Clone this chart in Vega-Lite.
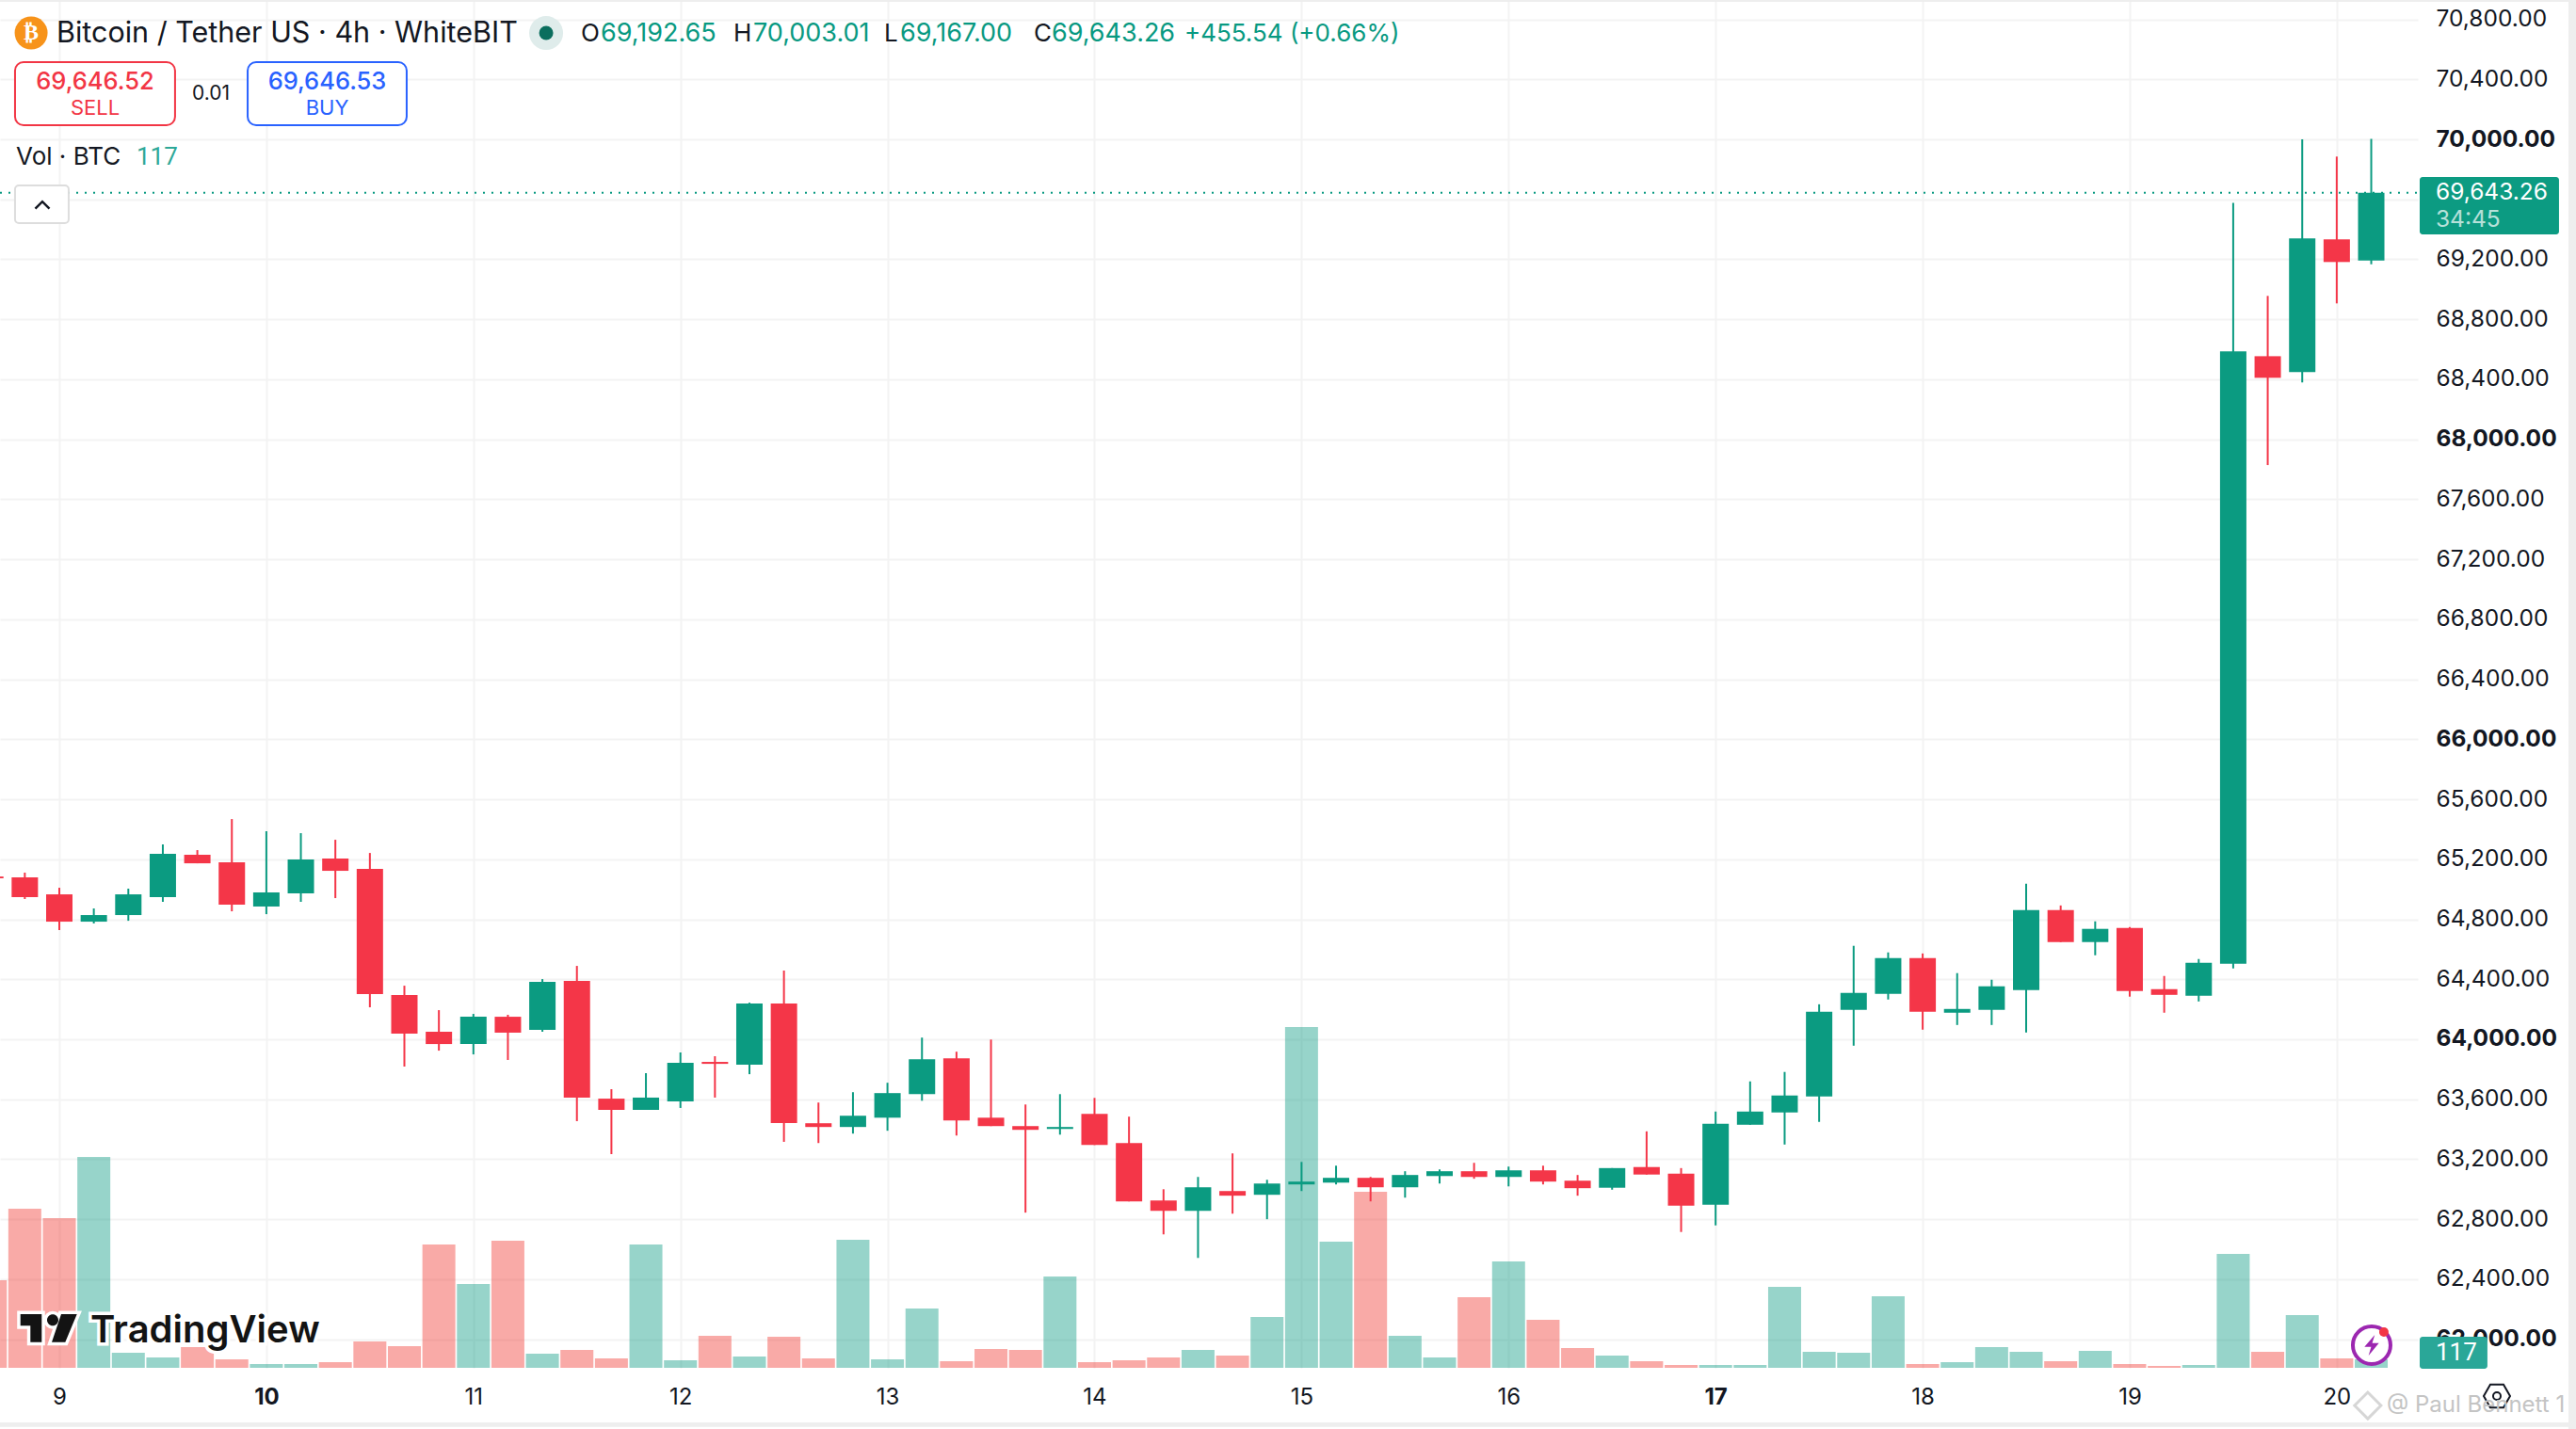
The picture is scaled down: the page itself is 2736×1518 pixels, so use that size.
{"$schema":"https://vega.github.io/schema/vega-lite/v6.json","width":2568,"height":1453,"autosize":"none","padding":{"left":0,"top":0,"right":168,"bottom":65},"background":"#ffffff","config":{"view":{"stroke":null},"font":"Inter"},
"datasets":{"candles":[
{"time":"2024-05-08T16:00:00Z","open":65085,"high":65090,"low":65060,"close":65073,"volume":1209},
{"time":"2024-05-08T20:00:00Z","open":65079,"high":65111,"low":64935,"close":64947,"volume":2197},
{"time":"2024-05-09T00:00:00Z","open":64966,"high":65010,"low":64728,"close":64784,"volume":2067},
{"time":"2024-05-09T04:00:00Z","open":64784,"high":64872,"low":64772,"close":64828,"volume":2912},
{"time":"2024-05-09T08:00:00Z","open":64828,"high":65004,"low":64790,"close":64966,"volume":208},
{"time":"2024-05-09T12:00:00Z","open":64947,"high":65299,"low":64916,"close":65236,"volume":143},
{"time":"2024-05-09T16:00:00Z","open":65230,"high":65261,"low":65173,"close":65173,"volume":286},
{"time":"2024-05-09T20:00:00Z","open":65180,"high":65468,"low":64853,"close":64897,"volume":117},
{"time":"2024-05-10T00:00:00Z","open":64885,"high":65387,"low":64834,"close":64979,"volume":52},
{"time":"2024-05-10T04:00:00Z","open":64972,"high":65374,"low":64916,"close":65198,"volume":52},
{"time":"2024-05-10T08:00:00Z","open":65205,"high":65330,"low":64941,"close":65123,"volume":78},
{"time":"2024-05-10T12:00:00Z","open":65136,"high":65242,"low":64213,"close":64301,"volume":364},
{"time":"2024-05-10T16:00:00Z","open":64295,"high":64357,"low":63818,"close":64037,"volume":299},
{"time":"2024-05-10T20:00:00Z","open":64050,"high":64194,"low":63924,"close":63968,"volume":1703},
{"time":"2024-05-11T00:00:00Z","open":63968,"high":64169,"low":63899,"close":64150,"volume":1157},
{"time":"2024-05-11T04:00:00Z","open":64150,"high":64163,"low":63862,"close":64044,"volume":1755},
{"time":"2024-05-11T08:00:00Z","open":64062,"high":64401,"low":64050,"close":64382,"volume":195},
{"time":"2024-05-11T12:00:00Z","open":64389,"high":64489,"low":63454,"close":63611,"volume":247},
{"time":"2024-05-11T16:00:00Z","open":63604,"high":63667,"low":63234,"close":63529,"volume":130},
{"time":"2024-05-11T20:00:00Z","open":63529,"high":63774,"low":63529,"close":63611,"volume":1703},
{"time":"2024-05-12T00:00:00Z","open":63585,"high":63912,"low":63542,"close":63843,"volume":104},
{"time":"2024-05-12T04:00:00Z","open":63849,"high":63887,"low":63611,"close":63836,"volume":442},
{"time":"2024-05-12T08:00:00Z","open":63830,"high":64244,"low":63767,"close":64238,"volume":156},
{"time":"2024-05-12T12:00:00Z","open":64238,"high":64458,"low":63316,"close":63441,"volume":429},
{"time":"2024-05-12T16:00:00Z","open":63440,"high":63578,"low":63308,"close":63415,"volume":130},
{"time":"2024-05-12T20:00:00Z","open":63415,"high":63647,"low":63371,"close":63490,"volume":1768},
{"time":"2024-05-13T00:00:00Z","open":63477,"high":63710,"low":63390,"close":63641,"volume":117},
{"time":"2024-05-13T04:00:00Z","open":63634,"high":64011,"low":63590,"close":63867,"volume":819},
{"time":"2024-05-13T08:00:00Z","open":63873,"high":63917,"low":63358,"close":63459,"volume":91},
{"time":"2024-05-13T12:00:00Z","open":63477,"high":63998,"low":63421,"close":63421,"volume":260},
{"time":"2024-05-13T16:00:00Z","open":63421,"high":63565,"low":62844,"close":63396,"volume":247},
{"time":"2024-05-13T20:00:00Z","open":63402,"high":63634,"low":63364,"close":63415,"volume":1261},
{"time":"2024-05-14T00:00:00Z","open":63503,"high":63609,"low":63295,"close":63295,"volume":78},
{"time":"2024-05-14T04:00:00Z","open":63308,"high":63484,"low":62919,"close":62919,"volume":104},
{"time":"2024-05-14T08:00:00Z","open":62925,"high":63000,"low":62699,"close":62856,"volume":143},
{"time":"2024-05-14T12:00:00Z","open":62856,"high":63082,"low":62542,"close":63013,"volume":247},
{"time":"2024-05-14T16:00:00Z","open":62988,"high":63239,"low":62837,"close":62957,"volume":169},
{"time":"2024-05-14T20:00:00Z","open":62963,"high":63063,"low":62800,"close":63038,"volume":702},
{"time":"2024-05-15T00:00:00Z","open":63032,"high":63182,"low":62988,"close":63051,"volume":4706},
{"time":"2024-05-15T04:00:00Z","open":63044,"high":63157,"low":63032,"close":63076,"volume":1742},
{"time":"2024-05-15T08:00:00Z","open":63076,"high":63082,"low":62919,"close":63013,"volume":2431},
{"time":"2024-05-15T12:00:00Z","open":63013,"high":63120,"low":62944,"close":63095,"volume":442},
{"time":"2024-05-15T16:00:00Z","open":63088,"high":63132,"low":63038,"close":63120,"volume":143},
{"time":"2024-05-15T20:00:00Z","open":63120,"high":63176,"low":63070,"close":63082,"volume":975},
{"time":"2024-05-16T00:00:00Z","open":63082,"high":63151,"low":63019,"close":63126,"volume":1469},
{"time":"2024-05-16T04:00:00Z","open":63126,"high":63157,"low":63032,"close":63051,"volume":663},
{"time":"2024-05-16T08:00:00Z","open":63057,"high":63095,"low":62957,"close":63007,"volume":273},
{"time":"2024-05-16T12:00:00Z","open":63010,"high":63141,"low":62997,"close":63141,"volume":169},
{"time":"2024-05-16T16:00:00Z","open":63148,"high":63386,"low":63098,"close":63098,"volume":91},
{"time":"2024-05-16T20:00:00Z","open":63104,"high":63141,"low":62715,"close":62890,"volume":39},
{"time":"2024-05-17T00:00:00Z","open":62897,"high":63518,"low":62759,"close":63436,"volume":39},
{"time":"2024-05-17T04:00:00Z","open":63430,"high":63719,"low":63430,"close":63518,"volume":39},
{"time":"2024-05-17T08:00:00Z","open":63512,"high":63782,"low":63298,"close":63625,"volume":1118},
{"time":"2024-05-17T12:00:00Z","open":63618,"high":64233,"low":63449,"close":64183,"volume":221},
{"time":"2024-05-17T16:00:00Z","open":64196,"high":64623,"low":63957,"close":64309,"volume":208},
{"time":"2024-05-17T20:00:00Z","open":64303,"high":64579,"low":64265,"close":64541,"volume":988},
{"time":"2024-05-18T00:00:00Z","open":64541,"high":64572,"low":64064,"close":64183,"volume":52},
{"time":"2024-05-18T04:00:00Z","open":64177,"high":64441,"low":64095,"close":64202,"volume":78},
{"time":"2024-05-18T08:00:00Z","open":64196,"high":64397,"low":64095,"close":64353,"volume":286},
{"time":"2024-05-18T12:00:00Z","open":64328,"high":65037,"low":64045,"close":64861,"volume":221},
{"time":"2024-05-18T16:00:00Z","open":64861,"high":64892,"low":64648,"close":64648,"volume":91},
{"time":"2024-05-18T20:00:00Z","open":64648,"high":64786,"low":64560,"close":64736,"volume":234},
{"time":"2024-05-19T00:00:00Z","open":64742,"high":64748,"low":64284,"close":64321,"volume":52},
{"time":"2024-05-19T04:00:00Z","open":64334,"high":64422,"low":64177,"close":64296,"volume":26},
{"time":"2024-05-19T08:00:00Z","open":64290,"high":64535,"low":64252,"close":64510,"volume":39},
{"time":"2024-05-19T12:00:00Z","open":64503,"high":69577,"low":64472,"close":68586,"volume":1573},
{"time":"2024-05-19T16:00:00Z","open":68554,"high":68956,"low":67828,"close":68410,"volume":221},
{"time":"2024-05-19T20:00:00Z","open":68448,"high":70000,"low":68379,"close":69339,"volume":728},
{"time":"2024-05-20T00:00:00Z","open":69333,"high":69885,"low":68906,"close":69182,"volume":130},
{"time":"2024-05-20T04:00:00Z","open":69192.65,"high":70003.01,"low":69167,"close":69643.26,"volume":117}
]},
"encoding":{"x":{"field":"time","type":"temporal","title":null,"scale":{"type":"utc","domain":["2024-05-08T17:07:27Z","2024-05-20T09:24:00Z"],"nice":false,"padding":0},"axis":{"title":null,"values":["2024-05-09T00:00:00Z","2024-05-10T00:00:00Z","2024-05-11T00:00:00Z","2024-05-12T00:00:00Z","2024-05-13T00:00:00Z","2024-05-14T00:00:00Z","2024-05-15T00:00:00Z","2024-05-16T00:00:00Z","2024-05-17T00:00:00Z","2024-05-18T00:00:00Z","2024-05-19T00:00:00Z","2024-05-20T00:00:00Z"],"labelExpr":"utcFormat(datum.value,'%-d')","domain":false,"ticks":false,"grid":true,"gridColor":"#f3f3f3","gridWidth":2,"labelFont":"Inter","labelFontSize":24,"labelColor":"#131722","labelPadding":19,"labelOverlap":false,"labelBound":false,"labelFlush":false,"labelFontWeight":{"condition":{"test":"utcdate(datum.value)===10||utcdate(datum.value)===17","value":"bold"},"value":"normal"}}}},
"resolve":{"scale":{"y":"independent"}},
"layer":[
{"data":{"values":[{"time":"2024-05-09T00:00:00Z","price":64000}]},"mark":{"type":"rule","opacity":0},"encoding":{"y":{"field":"price","type":"quantitative","scale":{"domain":[61809.4,70928.9],"nice":false,"zero":false},"axis":{"orient":"right","title":null,"values":[70800,70400,70000,69600,69200,68800,68400,68000,67600,67200,66800,66400,66000,65600,65200,64800,64400,64000,63600,63200,62800,62400,62000],"format":",.2f","labelExpr":"datum.value===69600?'':datum.label","domain":false,"ticks":false,"grid":true,"gridColor":"#f3f3f3","gridWidth":2,"labelFont":"Inter","labelFontSize":24.5,"labelColor":"#131722","labelPadding":19,"labelOverlap":false,"labelBound":false,"labelFlush":false,"labelFontWeight":{"condition":{"test":"datum.value%2000===0","value":"bold"},"value":"normal"}}}}},
{"data":{"name":"candles"},"mark":{"type":"bar","size":35,"opacity":0.42},"encoding":{"y":{"field":"volume","type":"quantitative","stack":null,"axis":null,"scale":{"domain":[0,18889],"nice":false,"zero":false}},"color":{"condition":{"test":"datum.close>=datum.open","value":"#089981"},"value":"#f1352d"}}},
{"layer":[
{"data":{"values":[{"time":"2024-05-08T17:07:27Z","time2":"2024-05-20T09:24:00Z","price":69643.26}]},"mark":{"type":"rule","color":"#089981","strokeWidth":2,"strokeDash":[2,7]},"encoding":{"x2":{"field":"time2"},"y":{"field":"price","type":"quantitative","axis":null,"scale":{"domain":[61809.4,70928.9],"nice":false,"zero":false}}}},
{"data":{"name":"candles"},"mark":{"type":"rule","strokeWidth":2},"encoding":{"y":{"field":"low","type":"quantitative","axis":null},"y2":{"field":"high"},"color":{"condition":{"test":"datum.close>=datum.open","value":"#0b9b81"},"value":"#f43648"}}},
{"data":{"name":"candles"},"mark":{"type":"bar","size":28},"encoding":{"y":{"field":"open","type":"quantitative","axis":null},"y2":{"field":"close"},"color":{"condition":{"test":"datum.close>=datum.open","value":"#0b9b81"},"value":"#f43648"}}},
{"data":{"values":[{"time":"2024-05-08T18:52:00Z","time2":"2024-05-09T13:25:00Z","price":70515,"price2":70094}]},"mark":{"type":"rect","fill":"#ffffff","stroke":"#f23645","strokeWidth":2,"cornerRadius":9},"encoding":{"x2":{"field":"time2"},"y":{"field":"price","type":"quantitative","axis":null},"y2":{"field":"price2"}}},
{"data":{"values":[{"time":"2024-05-09T21:50:00Z","time2":"2024-05-10T16:16:00Z","price":70515,"price2":70094}]},"mark":{"type":"rect","fill":"#ffffff","stroke":"#2962ff","strokeWidth":2,"cornerRadius":9},"encoding":{"x2":{"field":"time2"},"y":{"field":"price","type":"quantitative","axis":null},"y2":{"field":"price2"}}},
{"data":{"values":[{"time":"2024-05-08T18:52:00Z","time2":"2024-05-09T01:05:00Z","price":69692,"price2":69441}]},"mark":{"type":"rect","fill":"#ffffff","stroke":"#dddddd","strokeWidth":2,"cornerRadius":4},"encoding":{"x2":{"field":"time2"},"y":{"field":"price","type":"quantitative","axis":null},"y2":{"field":"price2"}}},
{"data":{"values":[{"time":"2024-05-20T09:37:00Z","time2":"2024-05-21T01:46:00Z","price":69749,"price2":69366}]},"mark":{"type":"rect","fill":"#0c9b82","cornerRadius":3},"encoding":{"x2":{"field":"time2"},"y":{"field":"price","type":"quantitative","axis":null},"y2":{"field":"price2"}}},
{"data":{"values":[{"time":"2024-05-20T09:37:00Z","time2":"2024-05-20T17:28:00Z","price":62017,"price2":61803}]},"mark":{"type":"rect","fill":"#2aa798","cornerRadius":3},"encoding":{"x2":{"field":"time2"},"y":{"field":"price","type":"quantitative","axis":null},"y2":{"field":"price2"}}},
{"data":{"values":[{"time":"2024-05-08T20:44:00Z","price":70709}]},"mark":{"type":"point","shape":"circle","size":1225,"filled":true,"color":"#f7931a","opacity":1},"encoding":{"y":{"field":"price","type":"quantitative","axis":null}}},
{"data":{"values":[{"time":"2024-05-11T08:26:00Z","price":70709}]},"mark":{"type":"point","shape":"circle","size":1296,"filled":true,"color":"#dfeceb","opacity":1},"encoding":{"y":{"field":"price","type":"quantitative","axis":null}}},
{"data":{"values":[{"time":"2024-05-11T08:26:00Z","price":70709}]},"mark":{"type":"point","shape":"circle","size":225,"filled":true,"color":"#0b6e5e","opacity":1},"encoding":{"y":{"field":"price","type":"quantitative","axis":null}}},
{"data":{"values":[{"time":"2024-05-08T20:44:00Z","price":70709,"label":"₿"}]},"mark":{"type":"text","font":"DejaVu Sans","fontWeight":"bold","fontSize":24,"color":"#ffffff","align":"center","baseline":"middle"},"encoding":{"y":{"field":"price","type":"quantitative","axis":null},"text":{"field":"label"}}},
{"data":{"values":[{"time":"2024-05-08T23:40:00Z","price":70700,"label":"Bitcoin / Tether US · 4h · WhiteBIT"}]},"mark":{"type":"text","font":"Inter","fontSize":30.5,"color":"#131722","align":"left","baseline":"middle"},"encoding":{"y":{"field":"price","type":"quantitative","axis":null},"text":{"field":"label"}}},
{"data":{"values":[{"time":"2024-05-11T12:28:00Z","price":70700,"label":"O"},{"time":"2024-05-12T06:09:00Z","price":70700,"label":"H"},{"time":"2024-05-12T23:37:00Z","price":70700,"label":"L"},{"time":"2024-05-13T16:58:00Z","price":70700,"label":"C"}]},"mark":{"type":"text","font":"Inter","fontSize":26,"color":"#131722","align":"left","baseline":"middle"},"encoding":{"y":{"field":"price","type":"quantitative","axis":null},"text":{"field":"label"}}},
{"data":{"values":[{"time":"2024-05-11T14:45:00Z","price":70700,"label":"69,192.65"},{"time":"2024-05-12T08:26:00Z","price":70700,"label":"70,003.01"},{"time":"2024-05-13T01:28:00Z","price":70700,"label":"69,167.00"},{"time":"2024-05-13T19:02:00Z","price":70700,"label":"69,643.26"}]},"mark":{"type":"text","font":"Inter","fontSize":27,"color":"#089981","align":"left","baseline":"middle"},"encoding":{"y":{"field":"price","type":"quantitative","axis":null},"text":{"field":"label"}}},
{"data":{"values":[{"time":"2024-05-14T10:25:00Z","price":70700,"label":"+455.54 (+0.66%)"}]},"mark":{"type":"text","font":"Inter","fontSize":26,"color":"#089981","align":"left","baseline":"middle"},"encoding":{"y":{"field":"price","type":"quantitative","axis":null},"text":{"field":"label"}}},
{"data":{"values":[{"time":"2024-05-09T04:09:00Z","price":70383,"label":"69,646.52"}]},"mark":{"type":"text","font":"Inter","fontSize":25.5,"fontWeight":500,"color":"#f23645","align":"center","baseline":"middle"},"encoding":{"y":{"field":"price","type":"quantitative","axis":null},"text":{"field":"label"}}},
{"data":{"values":[{"time":"2024-05-09T04:09:00Z","price":70207,"label":"SELL"}]},"mark":{"type":"text","font":"Inter","fontSize":22,"color":"#f23645","align":"center","baseline":"middle"},"encoding":{"y":{"field":"price","type":"quantitative","axis":null},"text":{"field":"label"}}},
{"data":{"values":[{"time":"2024-05-10T07:03:00Z","price":70383,"label":"69,646.53"}]},"mark":{"type":"text","font":"Inter","fontSize":25.5,"fontWeight":500,"color":"#2962ff","align":"center","baseline":"middle"},"encoding":{"y":{"field":"price","type":"quantitative","axis":null},"text":{"field":"label"}}},
{"data":{"values":[{"time":"2024-05-10T07:03:00Z","price":70207,"label":"BUY"}]},"mark":{"type":"text","font":"Inter","fontSize":22,"color":"#2962ff","align":"center","baseline":"middle"},"encoding":{"y":{"field":"price","type":"quantitative","axis":null},"text":{"field":"label"}}},
{"data":{"values":[{"time":"2024-05-09T17:34:00Z","price":70301,"label":"0.01"}]},"mark":{"type":"text","font":"Inter","fontSize":21,"color":"#131722","align":"center","baseline":"middle"},"encoding":{"y":{"field":"price","type":"quantitative","axis":null},"text":{"field":"label"}}},
{"data":{"values":[{"time":"2024-05-08T18:59:00Z","price":69881,"label":"Vol · BTC"}]},"mark":{"type":"text","font":"Inter","fontSize":26,"color":"#131722","align":"left","baseline":"middle"},"encoding":{"y":{"field":"price","type":"quantitative","axis":null},"text":{"field":"label"}}},
{"data":{"values":[{"time":"2024-05-09T08:57:00Z","price":69881,"label":"117"}]},"mark":{"type":"text","font":"Roboto","fontSize":26,"color":"#2ea898","align":"left","baseline":"middle"},"encoding":{"y":{"field":"price","type":"quantitative","axis":null},"text":{"field":"label"}}},
{"data":{"values":[{"time":"2024-05-08T22:02:00Z","price":69561}]},"mark":{"type":"point","shape":"M-1,0.5L0,-0.5L1,0.5","size":225,"filled":false,"stroke":"#131722","strokeWidth":2.5,"opacity":1},"encoding":{"y":{"field":"price","type":"quantitative","axis":null}}},
{"data":{"values":[{"time":"2024-05-20T11:28:00Z","price":69643,"label":"69,643.26"}]},"mark":{"type":"text","font":"Inter","fontSize":24.5,"color":"#ffffff","align":"left","baseline":"middle"},"encoding":{"y":{"field":"price","type":"quantitative","axis":null},"text":{"field":"label"}}},
{"data":{"values":[{"time":"2024-05-20T11:28:00Z","price":61910,"label":"117"}]},"mark":{"type":"text","font":"Roboto","fontSize":26,"color":"#ffffff","align":"left","baseline":"middle"},"encoding":{"y":{"field":"price","type":"quantitative","axis":null},"text":{"field":"label"}}},
{"data":{"values":[{"time":"2024-05-20T11:28:00Z","price":69463,"label":"34:45"}]},"mark":{"type":"text","font":"Inter","fontSize":24.5,"color":"#ffffff","opacity":0.7,"align":"left","baseline":"middle"},"encoding":{"y":{"field":"price","type":"quantitative","axis":null},"text":{"field":"label"}}},
{"data":{"values":[{"time":"2024-05-08T22:48:00Z","price":62073}]},"mark":{"type":"point","shape":"M-1.01,-0.5L-0.257,-0.5L-0.257,0.49L-0.657,0.49L-0.657,-0.09L-1.01,-0.09ZM0.433,-0.5L0.99,-0.5L0.577,0.49L0.1,0.49ZM-0.067,-0.29A0.2,0.2 0 1 1 0.333,-0.29A0.2,0.2 0 1 1 -0.067,-0.29Z","size":3600,"filled":false,"fill":"#ffffff","stroke":"#ffffff","strokeWidth":7,"opacity":1},"encoding":{"y":{"field":"price","type":"quantitative","axis":null}}},
{"data":{"values":[{"time":"2024-05-09T03:36:00Z","price":61981,"label":"TradingView"}]},"mark":{"type":"text","font":"Inter","fontSize":40,"fontWeight":600,"color":"#ffffff","stroke":"#ffffff","strokeWidth":7,"align":"left","baseline":"alphabetic"},"encoding":{"y":{"field":"price","type":"quantitative","axis":null},"text":{"field":"label"}}},
{"data":{"values":[{"time":"2024-05-08T22:48:00Z","price":62073}]},"mark":{"type":"point","shape":"M-1.01,-0.5L-0.257,-0.5L-0.257,0.49L-0.657,0.49L-0.657,-0.09L-1.01,-0.09ZM0.433,-0.5L0.99,-0.5L0.577,0.49L0.1,0.49ZM-0.067,-0.29A0.2,0.2 0 1 1 0.333,-0.29A0.2,0.2 0 1 1 -0.067,-0.29Z","size":3600,"filled":true,"color":"#131313","opacity":1},"encoding":{"y":{"field":"price","type":"quantitative","axis":null}}},
{"data":{"values":[{"time":"2024-05-09T03:36:00Z","price":61981,"label":"TradingView"}]},"mark":{"type":"text","font":"Inter","fontSize":40,"fontWeight":600,"color":"#131313","align":"left","baseline":"alphabetic"},"encoding":{"y":{"field":"price","type":"quantitative","axis":null},"text":{"field":"label"}}},
{"data":{"values":[{"time":"2024-05-20T04:03:00Z","price":61960}]},"mark":{"type":"point","shape":"circle","size":1600,"filled":false,"fill":"#ffffff","stroke":"#9c27b0","strokeWidth":4,"opacity":1},"encoding":{"y":{"field":"price","type":"quantitative","axis":null}}},
{"data":{"values":[{"time":"2024-05-20T04:03:00Z","price":61960}]},"mark":{"type":"point","shape":"M0.3,-1L-0.7,0.15L-0.05,0.15L-0.3,1L0.7,-0.2L0.05,-0.2Z","size":484,"filled":true,"color":"#9c27b0","opacity":1},"encoding":{"y":{"field":"price","type":"quantitative","axis":null}}},
{"data":{"values":[{"time":"2024-05-20T05:28:00Z","price":62048}]},"mark":{"type":"point","shape":"circle","size":100,"filled":true,"color":"#f23645","opacity":1},"encoding":{"y":{"field":"price","type":"quantitative","axis":null}}},
{"data":{"values":[{"time":"2024-05-20T18:34:00Z","price":61621}]},"mark":{"type":"point","shape":"M-1,0L-0.5,-0.87L0.5,-0.87L1,0L0.5,0.87L-0.5,0.87Z","size":784,"filled":false,"stroke":"#131722","strokeWidth":2,"opacity":1},"encoding":{"y":{"field":"price","type":"quantitative","axis":null}}},
{"data":{"values":[{"time":"2024-05-20T18:34:00Z","price":61621}]},"mark":{"type":"point","shape":"circle","size":64,"filled":false,"stroke":"#131722","strokeWidth":2,"opacity":1},"encoding":{"y":{"field":"price","type":"quantitative","axis":null}}},
{"data":{"values":[{"time":"2024-05-08T00:00:00Z","time2":"2024-05-22T00:00:00Z","price":70945,"price2":70916},{"time":"2024-05-08T00:00:00Z","time2":"2024-05-22T00:00:00Z","price":61446,"price2":61415},{"time":"2024-05-21T02:52:00Z","time2":"2024-05-21T04:30:00Z","price":70945,"price2":61300}]},"mark":{"type":"rect","fill":"#eeeeee"},"encoding":{"x2":{"field":"time2"},"y":{"field":"price","type":"quantitative","axis":null},"y2":{"field":"price2"}}},
{"data":{"values":[{"time":"2024-05-20T03:36:00Z","price":61558}]},"mark":{"type":"point","shape":"diamond","size":784,"filled":false,"stroke":"#d6d6d6","strokeWidth":3,"opacity":1},"encoding":{"y":{"field":"price","type":"quantitative","axis":null}}},
{"data":{"values":[{"time":"2024-05-20T05:48:00Z","price":61558,"label":"@ Paul Bennett 1"}]},"mark":{"type":"text","font":"Inter","fontSize":24,"color":"#c4c4c4","align":"left","baseline":"middle"},"encoding":{"y":{"field":"price","type":"quantitative","axis":null},"text":{"field":"label"}}}
]}
]}
